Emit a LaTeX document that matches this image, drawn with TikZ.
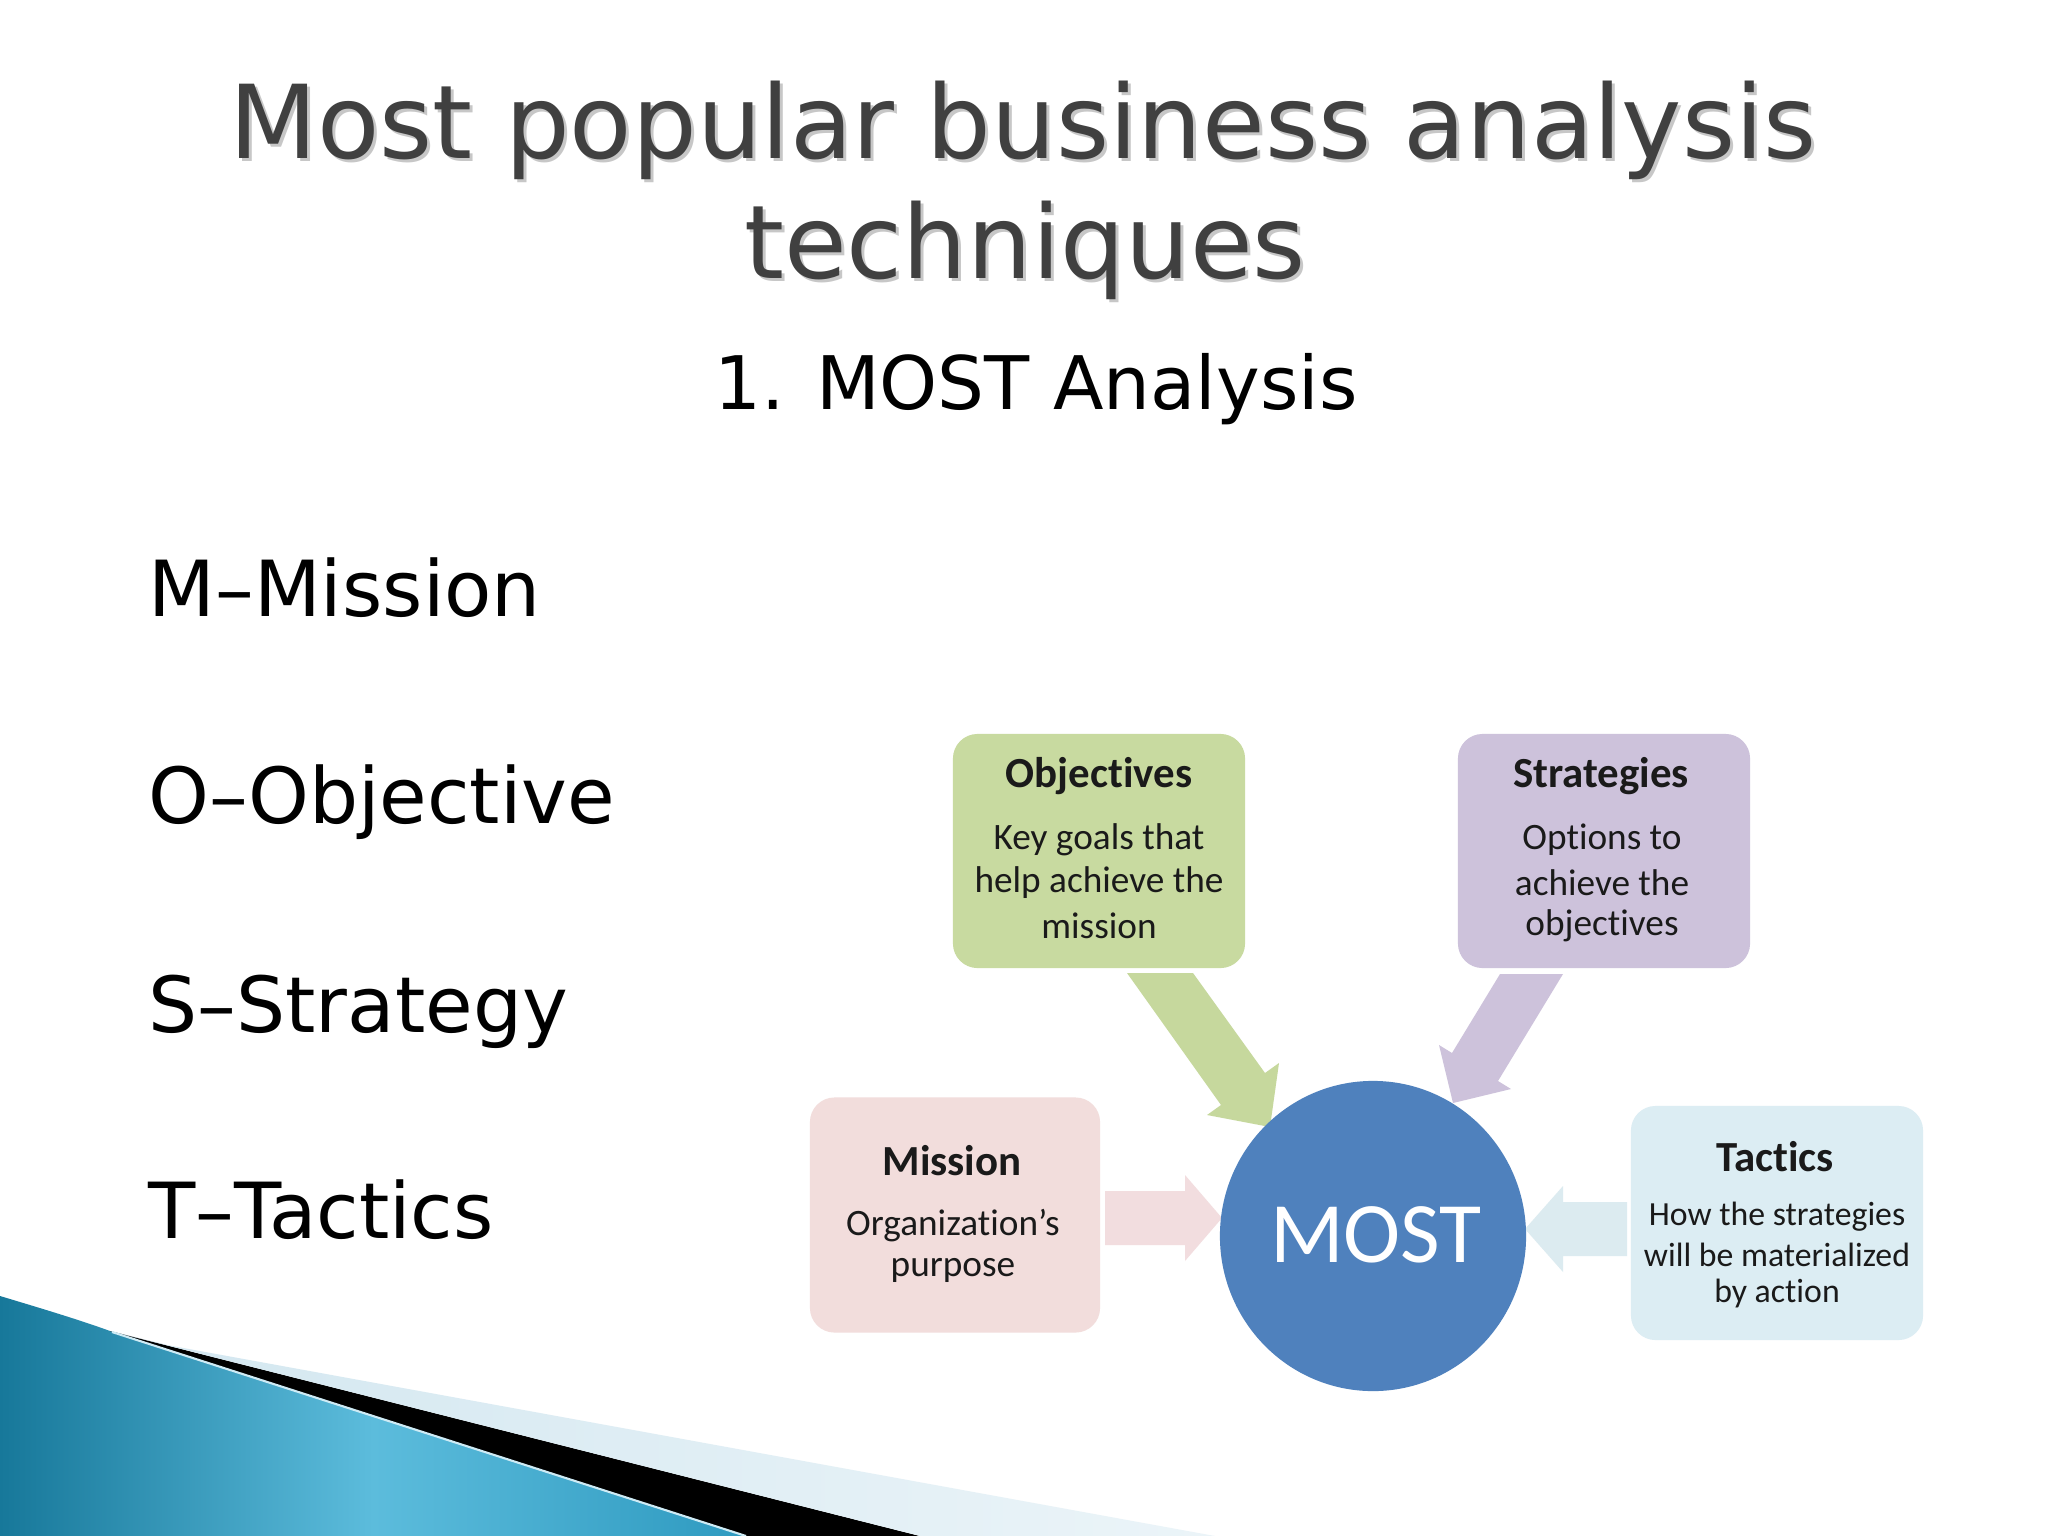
\documentclass[tikz,border=0pt]{standalone}
\usepackage{fontspec}
\setmainfont{DejaVu Sans}
\newfontfamily\carl[Ligatures={NoCommon,NoRare,NoContextual}]{Carlito}
\usetikzlibrary{shapes.geometric}
\definecolor{titlegray}{HTML}{404040}
\definecolor{objfill}{HTML}{C8DAA0}
\definecolor{strfill}{HTML}{CDC2DB}
\definecolor{misfill}{HTML}{F2DDDC}
\definecolor{tacfill}{HTML}{DCEDF3}
\definecolor{objarrow}{HTML}{C6D89D}
\definecolor{strarrow}{HTML}{CDC2DB}
\definecolor{misarrow}{HTML}{F2DDDF}
\definecolor{tacarrow}{HTML}{DCEBF0}
\definecolor{mostfill}{HTML}{4F81BD}
\definecolor{tealdark}{HTML}{17789A}
\definecolor{teallight}{HTML}{5CBCDC}
\definecolor{tealmid}{HTML}{2E9AC0}
\definecolor{paleblue}{HTML}{D3E7F0}
\definecolor{boxtext}{HTML}{1A1A1A}
\tikzset{
  card/.style={rounded corners=7pt, inner sep=0pt},
  cardhead/.style={font=\carl\bfseries\fontsize{12.2}{14}\selectfont, text=boxtext, inner sep=0pt},
  cardbody/.style={font=\carl\fontsize{10.6}{12.2}\selectfont, text=boxtext, inner sep=0pt},
  tacbody/.style={font=\carl\fontsize{9.6}{10.8}\selectfont, text=boxtext, inner sep=0pt},
  titletext/.style={font=\fontsize{29}{34}\selectfont, text=titlegray, inner sep=0pt},
  shadowtext/.style={font=\fontsize{29}{34}\selectfont, text=black!22, inner sep=0pt},
  listtext/.style={font=\fontsize{22}{26}\selectfont, text=black, anchor=base west, inner sep=0pt},
}
\begin{document}
\begin{tikzpicture}[x=0.01cm,y=-0.01cm]
\fill[white] (0,0) rectangle (2048,1536);
\useasboundingbox (0,0) rectangle (2048,1536);

% title with soft shadow
\node[shadowtext, anchor=base] (t1s) at (1026,161) {Most popular business analysis};
\node[shadowtext, anchor=base] (t2s) at (1028,281) {techniques};
\node[titletext, anchor=base] (t1) at (1023,158) {Most popular business analysis};
\node[titletext, anchor=base] (t2) at (1025,278) {techniques};

\node[font=\fontsize{21}{25}\selectfont, anchor=base, inner sep=0pt] (sub) at (1036,409) {1. MOST Analysis};

% left list
\node[listtext] (lm) at (148,616) {M–Mission};
\node[listtext] (lo) at (148,823) {O–Objective};
\node[listtext] (ls) at (148,1032) {S–Strategy};
\node[listtext] (lt) at (148,1238) {T–Tactics};

% bottom-left swoosh
\shade[left color=tealdark, right color=tealmid, middle color=teallight]
  (0,1296) .. controls (40,1308) and (80,1320) .. (110,1331) -- (746,1536) -- (0,1536) -- cycle;
\fill[black] (110,1331) -- (920,1536) -- (746,1536) -- cycle;
\shade[left color=paleblue, right color=paleblue!45]
  (118,1333) -- (167,1345) -- (1215,1536) -- (920,1536) -- cycle;
\draw[white!70!teallight, line width=0.6pt] (112,1332) -- (746,1536);

% cards
\node[card, fill=objfill, minimum width=2.92cm, minimum height=2.34cm] (obj) at (1099,851) {};
\node[card, fill=strfill, minimum width=2.92cm, minimum height=2.34cm] (str) at (1604,851) {};
\node[card, fill=misfill, minimum width=2.90cm, minimum height=2.35cm] (mis) at (955,1215) {};
\node[card, fill=tacfill, minimum width=2.92cm, minimum height=2.34cm] (tac) at (1777,1223) {};

% arrows
\fill[objarrow] (1127,973) -- (1193,973) -- (1265,1073) -- (1279,1063) -- (1270,1127)
  -- (1207,1115) -- (1221,1105) -- cycle;
\fill[strarrow] (1500,974) -- (1563,974) -- (1498,1081) -- (1511,1089) -- (1453,1103)
  -- (1439,1045) -- (1452,1053) -- cycle;
\fill[misarrow] (1105,1191) -- (1185,1191) -- (1185,1175) -- (1222,1218) -- (1185,1261)
  -- (1185,1245) -- (1105,1245) -- cycle;
\fill[tacarrow] (1627,1202) -- (1563,1202) -- (1563,1186) -- (1525,1229) -- (1563,1272)
  -- (1563,1256) -- (1627,1256) -- cycle;

% MOST circle
\node[ellipse, fill=mostfill, minimum width=3.06cm, minimum height=3.10cm, inner sep=0pt] (most) at (1373,1236) {};
\node[font=\carl\fontsize{24.5}{28}\selectfont, text=white, anchor=base, inner sep=0pt] (mostlbl) at (1376,1262) {MOST};

% card texts
\node[cardhead] (objh) at (1099,776) {Objectives};
\node[cardbody] (objb1) at (1099,840) {Key goals that};
\node[cardbody] (objb2) at (1099,883) {help achieve the};
\node[cardbody] (objb3) at (1099,926) {mission};

\node[cardhead] (strh) at (1601,776) {Strategies};
\node[cardbody] (strb1) at (1602,840) {Options to};
\node[cardbody] (strb2) at (1602,883) {achieve the};
\node[cardbody] (strb3) at (1602,926) {objectives};

\node[cardhead] (mish) at (952,1161) {Mission};
\node[cardbody] (misb1) at (953,1226) {Organization’s};
\node[cardbody] (misb2) at (953,1270) {purpose};

\node[cardhead] (tach) at (1775,1157) {Tactics};
\node[tacbody] (tacb1) at (1777,1217) {How the strategies};
\node[tacbody] (tacb2) at (1777,1255) {will be materialized};
\node[tacbody] (tacb3) at (1777,1293) {by action};
\end{tikzpicture}
\end{document}
